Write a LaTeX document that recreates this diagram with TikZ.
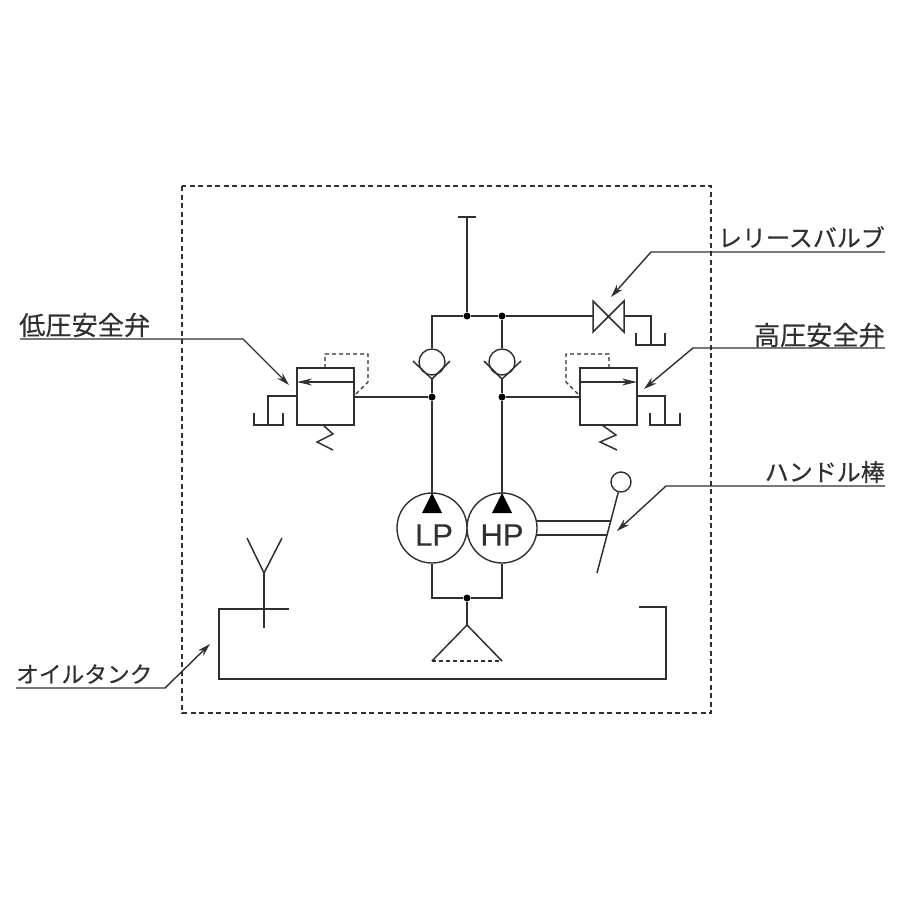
\documentclass[tikz,border=0pt]{standalone}
\usepackage{fontspec}
\setmainfont[FakeBold=0.25]{Liberation Sans}
\newfontfamily\jpfont[FakeBold=0.35]{Noto Sans CJK JP}
\usetikzlibrary{arrows.meta}
\definecolor{ink}{HTML}{303030}
\tikzset{
  x=1pt,y=-1pt,
  pipe/.style={draw=ink,line width=1.5pt,line join=miter},
  pilot/.style={draw=ink,line width=1.1pt,dash pattern=on 4pt off 3pt},
  border/.style={draw=ink,line width=1.2pt,dash pattern=on 5pt off 3.5pt},
  leader/.style={draw=ink,line width=1.4pt,-{Stealth[length=13pt,width=7.5pt]}},
  joint/.style={circle,fill=black,inner sep=0pt,minimum size=7pt},
  ring/.style={circle,draw=ink,line width=1.4pt,fill=white,inner sep=0pt},
  lbl/.style={font=\jpfont\fontsize{24}{24}\selectfont,text=ink,inner sep=0pt},
  lblk/.style={font=\jpfont\fontsize{26.2}{26}\selectfont,text=ink,inner sep=0pt},
  lblo/.style={font=\jpfont\fontsize{22.7}{24}\selectfont,text=ink,inner sep=0pt},
  valvebox/.style={rectangle,draw=ink,line width=1.5pt,minimum width=57pt,minimum height=57pt,inner sep=0pt},
  pumplbl/.style={font=\fontsize{31}{31}\selectfont,text=ink}
}
\begin{document}
\begin{tikzpicture}
\useasboundingbox (0,0) rectangle (900,900);
\draw[border] (182,186) rectangle (711,713);

% joints
\node[joint] (jT) at (467,316) {};
\node[joint] (jR) at (502,316) {};
\node[joint] (jLo) at (432,397) {};
\node[joint] (jRo) at (502,397) {};
\node[joint] (jS) at (467,598) {};
\coordinate (topT) at (467,217);
\coordinate (cornerL) at (432,316);

% pumps
\node[ring,minimum size=70pt] (LP) at (432,528) {};
\node[ring,minimum size=70pt] (HP) at (502,528) {};
\node[pumplbl] (LPt) at (434,535) {LP};
\node[pumplbl] (HPt) at (502,535) {HP};

% check valves
\node[ring,minimum size=26pt] (CL) at (432,362) {};
\node[ring,minimum size=26pt] (CR) at (502,362) {};
\draw[pipe] (413,361) -- (432,379) -- (450,361);
\draw[pipe] (484,361) -- (502,379) -- (521,361);

% relief valves
\node[valvebox] (RL) at (325.5,396.5) {};
\node[valvebox] (RR) at (608.5,396.5) {};
\coordinate (RLa) at (354,382); \coordinate (RLb) at (297,382);
\coordinate (RRa) at (580,382); \coordinate (RRb) at (637,382);
\draw[pipe,-{Stealth[length=15pt,width=7pt,open]}] (RLa) -- (RLb);
\draw[pipe,-{Stealth[length=15pt,width=7pt,open]}] (RRa) -- (RRb);

% pipes
\draw[pipe] (topT) -- (jT);
\draw[pipe] (458,217) -- (476,217);
\draw[pipe] (CL.north) -- (cornerL) -- (jT);
\draw[pipe] (jT) -- (jR);
\draw[pipe] (jR) -- (CR.north);
\draw[pipe] (432,379) -- (jLo);
\draw[pipe] (502,379) -- (jRo);
\draw[pipe] (jLo) -- (432,493);
\draw[pipe] (jRo) -- (502,493);
\draw[pipe] (jLo) -- (354,397);
\draw[pipe] (jRo) -- (580,397);

% pump triangles
\fill[black] (432,493) -- (442,513) -- (422,513) -- cycle;
\fill[black] (502,493) -- (512,513) -- (492,513) -- cycle;

% suction
\draw[pipe] (LP.south) |- (jS);
\draw[pipe] (HP.south) |- (jS);
\draw[pipe] (jS) -- (467,625);
\draw[pipe] (432,661) -- (467,625) -- (502,661);
\draw[pilot] (432,661) -- (502,661);

% left tank
\draw[pipe] (297,396) -- (268,396) -- (268,425);
\draw[pipe] (254,413) -- (254,425) -- (283,425) -- (283,413);
% left spring
\draw[pipe] (323,425) -- (333,434) -- (317,442) -- (333,450);
\draw[pilot] (325,368) -- (325,354) -- (368,354) -- (368,382) -- (354,396);

% right tank
\draw[pipe] (637,396) -- (665,396) -- (665,425);
\draw[pipe] (650,413) -- (650,425) -- (680,425) -- (680,413);
% right spring
\draw[pipe] (602,425) -- (616,435) -- (600,442) -- (617,450);
\draw[pilot] (609,368) -- (609,354) -- (566,354) -- (566,382) -- (580,396);

% release valve
\draw[pipe] (jR) -- (593,316);
\draw[pipe] (593,301) -- (593,332) -- (624,301) -- (624,332) -- cycle;
\draw[pipe] (624,316) -- (651,316) -- (651,345);
\draw[pipe] (636,333) -- (636,345) -- (665,345) -- (665,333);

% handle
\node[ring,minimum size=20pt] (H) at (621,482) {};
\coordinate (Hend) at (597,573);
\draw[pipe] (H) -- (Hend);
\draw[pipe] (HP.east |- 0,521) ++(-1,0) -- (611,521);
\draw[pipe] (HP.east |- 0,535) ++(-1,0) -- (607,535);

% tank
\draw[pipe] (289,609) -- (219,609) -- (219,679) -- (666,679) -- (666,607) -- (639,607);
\draw[pipe] (264,573) -- (264,628);
\draw[pipe] (247,538) -- (264,573) -- (282,538);

% labels
\node[lblk,anchor=west] (t1) at (19,325) {低圧安全弁};
\node[lbl,anchor=east] (t2) at (885,237) {レリースバルブ};
\node[lblk,anchor=east] (t3) at (885,335) {高圧安全弁};
\node[lbl,anchor=east] (t4) at (885,472) {ハンドル棒};
\node[lblo,anchor=west] (t5) at (16,674) {オイルタンク};

% leaders
\coordinate (a1) at (20,339); \coordinate (a1b) at (243,339); \coordinate (a1t) at (289,385);
\coordinate (a2) at (885,252); \coordinate (a2b) at (651,252); \coordinate (a2t) at (611,297);
\coordinate (a3) at (885,348); \coordinate (a3b) at (693,348); \coordinate (a3t) at (644,389);
\coordinate (a4) at (885,486); \coordinate (a4b) at (666,486); \coordinate (a4t) at (617,531);
\coordinate (a5) at (16,688); \coordinate (a5b) at (165,688); \coordinate (a5t) at (210,644);
\draw[leader] (a1) -- (a1b) -- (a1t);
\draw[leader] (a2) -- (a2b) -- (a2t);
\draw[leader] (a3) -- (a3b) -- (a3t);
\draw[leader] (a4) -- (a4b) -- (a4t);
\draw[leader] (a5) -- (a5b) -- (a5t);
\end{tikzpicture}
\end{document}
